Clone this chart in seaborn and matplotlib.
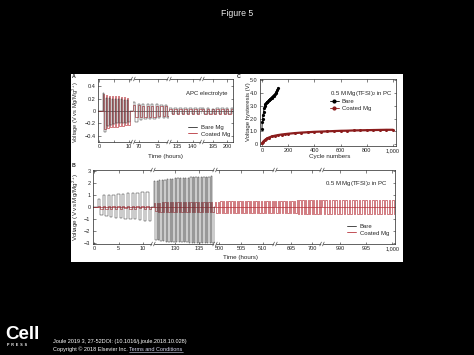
import matplotlib
matplotlib.use("Agg")
import matplotlib.pyplot as plt
from matplotlib.lines import Line2D
from matplotlib.patches import Rectangle
import seaborn as sns

sns.set_theme(style="ticks")
plt.rcParams['font.family'] = ['Liberation Sans', 'DejaVu Sans']
plt.rcParams['mathtext.default'] = 'regular'

W, H = 474, 355
BARE = '#2e2e2e'
COATED = '#b8343c'

# ---------------- panel A: APC electrolyte (plateau voltage per cycle, V)
a_limits = [(-0.3, 11.3), (68.4, 77.9), (132.5, 143.0), (191.0, 202.0)]
a_ticks = [[0, 5, 10], [70, 75], [135, 140], [195, 200]]
a_ticklabels = [['0', '', '10'], ['70', '75'], ['135', '140'], ['195', '200']]
a_start = [1.3, 68.4, 132.5, 191.0]      # hours
a_half = [0.5, 0.6, 0.8, 0.85]           # hours per half cycle
a_bare_pos = [[0.30, 0.22, 0.21, 0.20, 0.20, 0.19, 0.19, 0.18, 0.18],
              [0.14, 0.12, 0.12, 0.11, 0.11, 0.11, 0.10, 0.10],
              [0.05, 0.05, 0.05, 0.05, 0.05, 0.05, 0.05],
              [0.05, 0.05, 0.04, 0.05, 0.05, 0.05, 0.05]]
a_bare_neg = [[-0.33, -0.24, -0.22, -0.21, -0.20, -0.20, -0.19, -0.19, -0.18],
              [-0.17, -0.14, -0.13, -0.12, -0.12, -0.11, -0.11, -0.11],
              [-0.05, -0.05, -0.05, -0.05, -0.05, -0.05, -0.05],
              [-0.05, -0.05, -0.05, -0.04, -0.05, -0.05, -0.05]]
a_coat_pos = [[0.27, 0.26, 0.25, 0.25, 0.24, 0.24, 0.23, 0.23, 0.22],
              [0.10, 0.10, 0.09, 0.09, 0.09, 0.08, 0.08, 0.08],
              [0.04, 0.04, 0.04, 0.04, 0.04, 0.04, 0.04],
              [0.04, 0.04, 0.04, 0.04, 0.04, 0.04, 0.04]]
a_coat_neg = [[-0.29, -0.27, -0.26, -0.25, -0.25, -0.24, -0.24, -0.23, -0.23],
              [-0.10, -0.10, -0.09, -0.09, -0.09, -0.08, -0.08, -0.08],
              [-0.04, -0.04, -0.04, -0.04, -0.04, -0.04, -0.04],
              [-0.04, -0.04, -0.04, -0.04, -0.04, -0.04, -0.04]]
a_yticks = [-0.4, -0.2, 0, 0.2, 0.4]
a_yticklabels = ['\u22120.4', '\u22120.2', '0', '0.2', '0.4']

# ---------------- panel B: 0.5 M Mg(TFSI)2 in PC
b_limits = [(-0.2, 12.0), (125.4, 138.3), (499.0, 512.8), (691.0, 702.4), (986.5, 1000.5)]
b_ticks = [[0, 5, 10], [130, 135], [500, 505, 510], [695, 700], [990, 995, 1000]]
b_ticklabels = [['0', '5', '10'], ['130', '135'], ['500', '505', '510'], ['695', '700'],
                ['990', '995', '1,000']]
b_start = [0.8, 125.6, 499.0, 691.0, 986.5]
b_half = [0.49, 0.27, 0.31, 0.33, 0.32]
b_bare_pos = [[0.65, 1.00, 1.05, 1.05, 1.10, 1.10, 1.15, 1.15, 1.20, 1.25, 1.30],
              [2.15, 2.20, 2.25, 2.28, 2.30, 2.32, 2.35, 2.37, 2.40, 2.40, 2.42, 2.45,
               2.45, 2.47, 2.48, 2.50, 2.50, 2.52, 2.52, 2.54, 2.55, 2.55, 2.56],
              [], [], []]
b_bare_neg = [[-0.65, -0.75, -0.80, -0.85, -0.90, -0.95, -1.00, -1.00, -1.05, -1.10, -1.10],
              [-2.70, -2.75, -2.80, -2.82, -2.85, -2.85, -2.87, -2.88, -2.90, -2.90, -2.90, -2.92,
               -2.92, -2.93, -2.93, -2.94, -2.95, -2.95, -2.95, -2.96, -2.96, -2.97, -2.97],
              [], [], []]
b_coat_pos = [[0.12, 0.10, 0.10, 0.10, 0.09, 0.10, 0.10, 0.09, 0.10, 0.10, 0.10],
              [0.36, 0.38, 0.38, 0.40, 0.40, 0.41, 0.41, 0.42, 0.42, 0.42, 0.43, 0.43,
               0.43, 0.44, 0.44, 0.44, 0.44, 0.45, 0.45, 0.45, 0.45, 0.45, 0.46],
              [0.48, 0.48, 0.49, 0.49, 0.49, 0.50, 0.50, 0.50, 0.50, 0.50, 0.51, 0.51,
               0.51, 0.51, 0.51, 0.52, 0.52, 0.52, 0.52, 0.52, 0.52, 0.53, 0.53],
              [0.55, 0.55, 0.55, 0.56, 0.56, 0.56, 0.56, 0.56, 0.57, 0.57, 0.57, 0.57,
               0.57, 0.57, 0.58, 0.58, 0.58, 0.58],
              [0.60, 0.60, 0.60, 0.61, 0.61, 0.61, 0.61, 0.61, 0.62, 0.62, 0.62, 0.62,
               0.62, 0.62, 0.62, 0.63, 0.63, 0.63, 0.63, 0.63, 0.63, 0.63]]
b_coat_neg = [[-0.12, -0.10, -0.10, -0.10, -0.10, -0.09, -0.10, -0.10, -0.09, -0.10, -0.10],
              [-0.33, -0.35, -0.36, -0.37, -0.38, -0.38, -0.39, -0.39, -0.40, -0.40, -0.40, -0.41,
               -0.41, -0.41, -0.42, -0.42, -0.42, -0.42, -0.43, -0.43, -0.43, -0.43, -0.43],
              [-0.44, -0.44, -0.45, -0.45, -0.45, -0.45, -0.46, -0.46, -0.46, -0.46, -0.46, -0.47,
               -0.47, -0.47, -0.47, -0.47, -0.47, -0.48, -0.48, -0.48, -0.48, -0.48, -0.48],
              [-0.50, -0.50, -0.50, -0.51, -0.51, -0.51, -0.51, -0.51, -0.52, -0.52, -0.52, -0.52,
               -0.52, -0.52, -0.53, -0.53, -0.53, -0.53],
              [-0.54, -0.54, -0.55, -0.55, -0.55, -0.55, -0.55, -0.56, -0.56, -0.56, -0.56, -0.56,
               -0.56, -0.57, -0.57, -0.57, -0.57, -0.57, -0.57, -0.57, -0.58, -0.58]]
b_yticks = [-3, -2, -1, 0, 1, 2, 3]
b_yticklabels = ['\u22123', '\u22122', '\u22121', '0', '1', '2', '3']

# ---------------- panel C: voltage hysteresis vs cycle number
c_cycle_bare = [0, 2, 5, 8, 12, 16, 20, 25, 30, 35, 40, 45, 50, 55, 60, 65, 70, 75,
                80, 85, 90, 95, 100, 105, 110, 115, 120]
c_hyst_bare = [1.22, 1.75, 2.00, 2.30, 2.50, 2.80, 3.00, 3.15, 3.22, 3.28, 3.33, 3.38,
               3.42, 3.46, 3.50, 3.55, 3.60, 3.65, 3.70, 3.75, 3.80, 3.85, 3.92, 4.02,
               4.12, 4.25, 4.40]
c_cycle_coated = [0, 10, 20, 30, 40, 50, 75, 100, 125, 150, 175, 200, 250, 300, 350, 400,
                  450, 500, 550, 600, 650, 700, 750, 800, 850, 900, 950, 1000]
c_hyst_coated = [0.05, 0.20, 0.30, 0.38, 0.44, 0.50, 0.60, 0.66, 0.71, 0.75, 0.78, 0.81,
                 0.86, 0.90, 0.93, 0.96, 0.98, 1.00, 1.02, 1.04, 1.05, 1.07, 1.08, 1.09,
                 1.10, 1.11, 1.12, 1.12]


def square_wave(lo, hi, t0, half, pos, neg):
    t, v = [lo], [0.0]
    for i in range(len(pos)):
        t += [t0 + 2 * i * half, t0 + (2 * i + 1) * half]
        v += [pos[i], neg[i]]
    t.append(t0 + 2 * len(pos) * half)
    v.append(0.0)
    if t[-1] < hi:
        t.append(hi)
        v.append(0.0)
    return t, v


fig = plt.figure(figsize=(W / 100, H / 100), dpi=100, facecolor='black')
fig.add_artist(Rectangle((71 / W, 1 - 262 / H), 332 / W, 188 / H, transform=fig.transFigure,
                         facecolor='white', edgecolor='none', zorder=-10))


def style_ax(ax, left=True, right=True):
    for s in ax.spines.values():
        s.set_linewidth(0.5)
        s.set_color('#222222')
    ax.spines['left'].set_visible(left)
    ax.spines['right'].set_visible(right)
    ax.tick_params(direction='in', length=1.8, width=0.4, labelsize=4, pad=1.8,
                   colors='#222222', top=True, bottom=True, left=left, right=right,
                   labelleft=left)


def make_broken(left, top, bottom, widths, limits, ylim):
    axes = []
    x = left
    n = len(widths)
    for i in range(n):
        ax = fig.add_axes([x / W, 1 - bottom / H, widths[i] / W, (bottom - top) / H])
        ax.set_facecolor('none')
        ax.set_xlim(limits[i])
        ax.set_ylim(ylim)
        style_ax(ax, left=(i == 0), right=(i == n - 1))
        axes.append(ax)
        x += widths[i]
    x = left
    for w in widths[:-1]:
        x += w
        for y in (top, bottom):
            fig.add_artist(Line2D([(x - 1.3) / W, (x + 1.3) / W], [1 - y / H] * 2,
                                  color='white', lw=1.2, transform=fig.transFigure))
            for dx in (-1.4, 1.4):
                fig.add_artist(Line2D([(x + dx - 0.8) / W, (x + dx + 0.8) / W],
                                      [1 - (y + 2) / H, 1 - (y - 2) / H],
                                      color='#222222', lw=0.4, transform=fig.transFigure))
    return axes


# ---- panel A
axesA = make_broken(98, 79, 142, [35, 36, 33, 31], a_limits, (-0.5, 0.52))
for i, ax in enumerate(axesA):
    lo, hi = a_limits[i]
    ax.axhline(0, color=BARE, lw=0.4)
    tb, vb = square_wave(lo, hi, a_start[i], a_half[i], a_bare_pos[i], a_bare_neg[i])
    tc, vc = square_wave(lo, hi, a_start[i], a_half[i], a_coat_pos[i], a_coat_neg[i])
    sns.lineplot(x=tc, y=vc, ax=ax, color=COATED, lw=0.45, drawstyle='steps-post',
                 estimator=None, sort=False)
    sns.lineplot(x=tb, y=vb, ax=ax, color=BARE, lw=0.35, drawstyle='steps-post',
                 estimator=None, sort=False)
    ax.set_xticks(a_ticks[i], a_ticklabels[i])
    ax.set_yticks(a_yticks, a_yticklabels)
    ax.set_xlabel('')
    ax.set_ylabel('')

fig.text(207 / W, 1 - 93 / H, 'APC electrolyte', fontsize=4.3, ha='center', va='center')
axesA[-1].legend(handles=[Line2D([], [], color=BARE, lw=0.6), Line2D([], [], color=COATED, lw=0.6)],
                 labels=['Bare Mg', 'Coated Mg'], loc='upper left',
                 bbox_to_anchor=(185 / W, 1 - 122 / H), bbox_transform=fig.transFigure,
                 frameon=False, fontsize=4.3, handlelength=1.5, handletextpad=0.6,
                 labelspacing=0.2, borderpad=0)
fig.text(165 / W, 1 - 156 / H, 'Time (hours)', fontsize=4.5, ha='center', va='center')
fig.text(76 / W, 1 - 112 / H, 'Voltage (V vs Mg/Mg$^{2+}$)', fontsize=4.1, rotation=90,
         ha='center', va='center')
fig.text(72 / W, 1 - 76.5 / H, 'A', fontsize=3.8, weight='bold', ha='left', va='center')

# ---- panel C
axC = fig.add_axes([260 / W, 1 - 146 / H, 136 / W, 67 / H])
axC.set_facecolor('none')
sns.lineplot(x=c_cycle_coated, y=c_hyst_coated, ax=axC, color='#8b1c1c', lw=1.6,
             marker='o', markersize=2.2, markeredgewidth=0, estimator=None, sort=False)
sns.lineplot(x=c_cycle_bare, y=c_hyst_bare, ax=axC, color='black', lw=0.6,
             marker='o', markersize=2.3, markeredgewidth=0, estimator=None, sort=False)
axC.set_xlim(-15, 1023)
axC.set_ylim(-0.15, 5.1)
axC.set_xticks([0, 200, 400, 600, 800, 1000], ['0', '200', '400', '600', '800', '1,000'])
axC.set_yticks([0, 1, 2, 3, 4, 5], ['0', '1.0', '2.0', '3.0', '4.0', '5.0'])
axC.set_xlabel('')
axC.set_ylabel('')
style_ax(axC)
axC.legend(handles=[Line2D([], [], color='black', lw=0.6, marker='o', markersize=2),
                    Line2D([], [], color='#8b1c1c', lw=0.6, marker='o', markersize=2)],
           labels=['Bare', 'Coated Mg'], title='0.5 M Mg(TFSI)$_2$ in PC',
           title_fontsize=4.3, loc='upper left', bbox_to_anchor=(327 / W, 1 - 86 / H),
           bbox_transform=fig.transFigure, frameon=False, fontsize=4.3, handlelength=1.5,
           handletextpad=0.5, labelspacing=0.2, borderpad=0, alignment='left')
fig.text(330 / W, 1 - 156 / H, 'Cycle numbers', fontsize=4.5, ha='center', va='center')
fig.text(248 / W, 1 - 112 / H, 'Voltage hysteresis (V)', fontsize=4.3, rotation=90,
         ha='center', va='center')
fig.text(237 / W, 1 - 76.5 / H, 'C', fontsize=3.8, weight='bold', ha='left', va='center')

# ---- panel B
axesB = make_broken(93, 170, 244, [60, 62, 60, 47, 73], b_limits, (-3.05, 3.1))
for i, ax in enumerate(axesB):
    lo, hi = b_limits[i]
    ax.axhline(0, color=COATED, lw=0.5)
    tc, vc = square_wave(lo, hi, b_start[i], b_half[i], b_coat_pos[i], b_coat_neg[i])
    sns.lineplot(x=tc, y=vc, ax=ax, color=COATED, lw=0.45, drawstyle='steps-post',
                 estimator=None, sort=False)
    if b_bare_pos[i]:
        tb, vb = square_wave(lo, hi, b_start[i], b_half[i], b_bare_pos[i], b_bare_neg[i])
        sns.lineplot(x=tb, y=vb, ax=ax, color=BARE, lw=0.35, drawstyle='steps-post',
                     estimator=None, sort=False)
    ax.set_xticks(b_ticks[i], b_ticklabels[i])
    ax.set_yticks(b_yticks, b_yticklabels)
    ax.set_xlabel('')
    ax.set_ylabel('')

fig.text(356 / W, 1 - 184 / H, '0.5 M Mg(TFSI)$_2$ in PC', fontsize=4.3, ha='center', va='center')
axesB[-1].legend(handles=[Line2D([], [], color=BARE, lw=0.6), Line2D([], [], color=COATED, lw=0.6)],
                 labels=['Bare', 'Coated Mg'], loc='upper left',
                 bbox_to_anchor=(344 / W, 1 - 221 / H), bbox_transform=fig.transFigure,
                 frameon=False, fontsize=4.3, handlelength=1.5, handletextpad=0.6,
                 labelspacing=0.2, borderpad=0)
fig.text(240 / W, 1 - 257 / H, 'Time (hours)', fontsize=4.5, ha='center', va='center')
fig.text(76 / W, 1 - 207 / H, 'Voltage (V vs Mg/Mg$^{2+}$)', fontsize=4.5, rotation=90,
         ha='center', va='center')
fig.text(72 / W, 1 - 165 / H, 'B', fontsize=3.8, weight='bold', ha='left', va='center')

# ---- slide decorations
fig.text(0.5, 1 - 13 / H, 'Figure 5', fontsize=6.3, color='#e8e8e8', ha='center', va='center')
fig.text(5 / W, 1 - 339 / H, 'Cell', fontsize=13.5, weight='bold', color='white',
         ha='left', va='baseline')
fig.text(7 / W, 1 - 346 / H, 'P  R  E  S  S', fontsize=2.6, weight='bold', color='white',
         ha='left', va='baseline')
fig.text(53 / W, 1 - 343 / H, 'Joule 2019 3, 27-52DOI: (10.1016/j.joule.2018.10.028)',
         fontsize=4, color='white', ha='left', va='baseline')
t1 = fig.text(53 / W, 1 - 351 / H, 'Copyright \u00a9 2018 Elsevier Inc. ', fontsize=4,
              color='white', ha='left', va='baseline')
fig.canvas.draw()
bb = t1.get_window_extent()
t2 = fig.text(bb.x1 / W, 1 - 351 / H, 'Terms and Conditions', fontsize=4, color='#d8d8f0',
              ha='left', va='baseline')
fig.canvas.draw()
bb2 = t2.get_window_extent()
fig.add_artist(Line2D([bb2.x0 / W, bb2.x1 / W], [(bb2.y0 - 0.3) / H] * 2, color='#d8d8f0',
                      lw=0.4, transform=fig.transFigure))

fig.savefig('out.png', dpi=100, facecolor='black')
